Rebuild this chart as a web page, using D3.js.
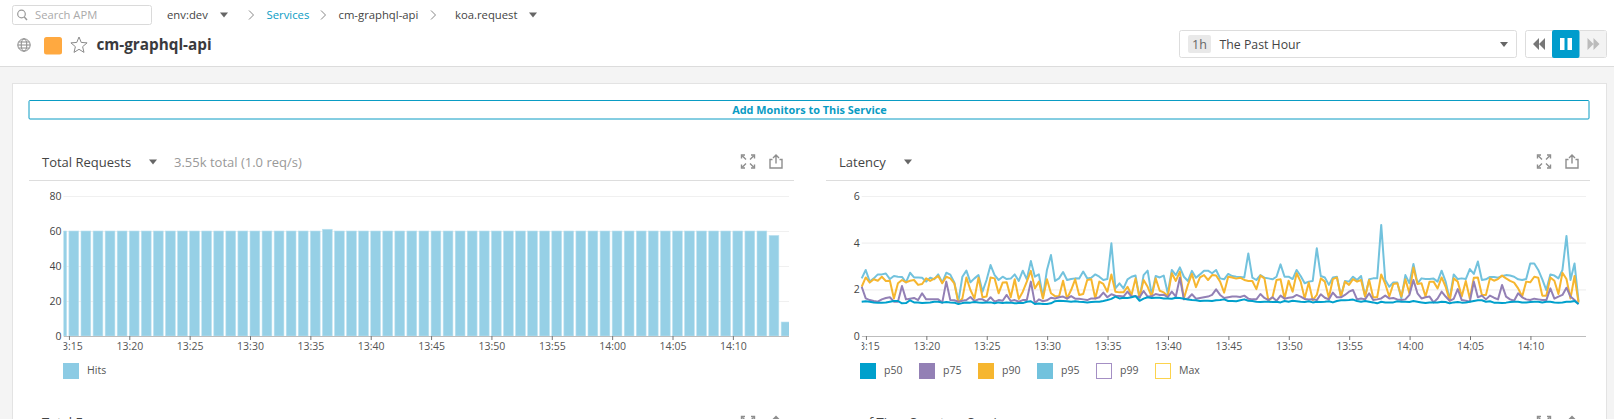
<!DOCTYPE html>
<html>
<head>
<meta charset="utf-8">
<script src="https://cdn.jsdelivr.net/npm/d3@7"></script>
<style>
body { margin: 0; background: #fff; overflow: hidden; }
text { font-family: "Open Sans", sans-serif; }
</style>
</head>
<body>
<svg id="app"></svg>
<script>
var width = 1614, height = 419;

// one bar per minute, 13:14 to 14:14
var hits = [60,60,60,60,60,60,60,60,60,60,60,60,60,60,60,60,60,60,60,60,60,60,61,60,60,60,60,60,60,60,
  60,60,60,60,60,60,60,60,60,60,60,60,60,60,60,60,60,60,60,60,60,60,60,60,60,60,60,60,60,57.5,8];

// latency, one point every 20 seconds
var p95 = [2.47,2.83,2.33,2.47,2.64,2.64,2.68,2.44,2.57,2.54,2.53,2.3,2.71,2.51,2.51,2.5,2.33,2.5,2.43,2.64,2.29,2.71,2.63,2.29,1.47,2.54,2.8,2.3,2.47,2.61,1.9,2.4,3.04,2.61,2.4,2.54,2.44,2.46,2.64,2.36,2.8,2.43,3.21,2.54,2.64,1.66,2.83,3.47,2.36,2.47,2.74,2.4,2.44,2.47,2.46,
  2.76,2.47,2.5,2.64,2.54,2.4,2.44,3.97,2.04,2.26,2.04,2.43,2.54,2.59,1.61,2.61,2.8,1.76,2.57,2.51,2.59,1.83,2.83,2.61,2.94,2.54,2.36,2.79,2.5,2.64,2.8,2.8,2.69,2.83,2.47,2.43,2.66,2.57,2.54,2.53,2.51,3.54,2.5,2.4,2.61,2.5,2.47,2.43,2.54,3.07,2.54,2.54,2.44,2.83,2.57,2.26,2.33,2.36,3.76,2.57,2.51,2.19,2.51,2.54,
  1.69,2.36,2.33,2.54,2.4,2.57,1.69,2.43,2.47,2.47,4.76,2.4,2.11,2.29,2.29,1.61,2.61,2.26,3.09,2.26,2.47,2.44,2.44,2.46,2.33,2.8,2.33,1.57,2.64,2.44,2.47,2.44,2.87,2.66,3.19,2.4,2.43,2.53,2.53,2.5,2.57,2.61,2.59,2.54,2.43,2.4,2.44,3.11,3.11,2.83,2.43,1.97,2.64,2.59,2.47,2.83,4.29,2.4,3.11,1.47];
var p90 = [2.11,2.51,2.29,2.43,2.37,2.54,2.36,2.37,1.61,2.26,2.4,2.3,2.37,2.4,2.19,2.23,2.47,2.36,2.46,2.57,2.26,2.54,2.47,2.26,1.43,1.61,2.51,1.97,1.61,2.5,1.66,1.69,2.51,2.47,1.83,2.29,2.3,1.66,2.43,1.59,1.9,2.33,2.79,2.04,2.33,1.61,2.43,1.83,1.71,1.69,2.37,1.61,1.97,2.43,1.76,
  1.8,2.4,2.43,1.61,2.33,2.23,1.9,2.64,1.9,1.87,1.87,2.11,1.76,2.47,1.66,2.4,2.11,1.69,2.47,1.94,1.87,1.71,2.69,2.36,2.76,1.61,2.19,2.66,2.09,2.51,2.61,2.4,2.61,2.59,2.33,1.86,2.54,2.51,2.46,2.5,2.4,2.36,2.36,2.01,2.59,2.47,1.51,1.66,2.4,2.43,1.61,2.37,1.9,2.69,2.33,1.61,2.29,1.54,1.76,2.47,2.33,1.64,2.44,2.51,
  1.69,2.33,2.19,2.44,2.33,2.4,1.69,2.4,1.66,1.66,2.64,2.23,1.69,2.23,2.26,1.69,2.43,1.83,2.94,2.23,2.26,1.69,2.33,2.33,2.04,2.51,2.11,1.51,2.47,2.33,1.69,2.36,1.61,2.5,2.51,1.76,1.76,2.47,2.37,2.44,2.59,2.47,2.36,2.29,2.04,1.69,2.33,2.3,2.54,2.5,1.73,1.73,2.51,2.37,1.8,2.71,2.44,1.61,2.57,1.43];
var p75 = [2.11,1.61,1.54,1.5,1.47,1.57,1.63,1.66,1.47,1.47,2.14,1.57,1.6,1.63,1.54,1.83,1.57,1.57,1.57,1.57,1.43,2.33,1.54,1.53,1.47,1.51,1.54,1.67,1.5,1.57,1.57,1.47,1.66,1.47,1.54,1.51,1.76,1.5,1.54,1.47,1.54,1.54,2.33,1.4,1.57,1.49,1.53,1.64,1.61,1.66,1.69,1.6,1.71,1.6,1.6,
  1.57,1.54,1.61,1.61,1.66,1.86,1.66,1.79,1.73,1.71,1.69,1.9,1.69,1.71,1.66,1.93,1.69,1.7,1.8,1.76,1.77,1.66,1.9,1.69,2.5,1.57,1.61,1.79,1.6,1.63,1.66,1.69,1.76,2,1.76,1.63,1.66,1.69,1.69,1.67,1.73,1.6,1.57,1.57,1.8,1.63,1.54,1.66,1.51,1.73,1.6,1.64,1.66,1.76,1.69,1.59,1.56,1.57,1.54,1.79,1.64,1.57,1.86,1.66,
  1.66,1.76,1.9,1.97,1.57,1.61,1.57,1.83,1.54,1.57,1.61,1.73,1.61,1.63,1.57,1.54,1.57,1.76,2.4,1.83,1.61,1.66,1.69,1.44,1.61,1.9,1.69,1.51,1.59,2.01,1.54,1.51,1.47,2.33,1.66,1.73,1.57,1.73,1.64,1.57,2.19,1.69,1.57,1.51,1.83,1.66,1.57,1.54,1.6,1.57,1.54,1.54,2.04,1.6,1.69,1.76,2.07,1.69,1.54,1.37];
var p50 = [1.47,1.49,1.47,1.44,1.43,1.43,1.44,1.47,1.5,1.5,1.4,1.41,1.53,1.44,1.44,1.41,1.43,1.44,1.47,1.47,1.43,1.46,1.44,1.43,1.37,1.41,1.44,1.43,1.46,1.44,1.43,1.44,1.44,1.4,1.44,1.41,1.44,1.43,1.4,1.41,1.41,1.47,1.49,1.37,1.39,1.37,1.37,1.4,1.49,1.51,1.5,1.49,1.47,1.49,1.47,
  1.46,1.44,1.46,1.47,1.47,1.5,1.54,1.59,1.69,1.61,1.64,1.63,1.66,1.71,1.51,1.6,1.66,1.63,1.64,1.64,1.61,1.61,1.6,1.64,1.63,1.6,1.56,1.54,1.53,1.5,1.51,1.51,1.5,1.53,1.54,1.57,1.5,1.5,1.49,1.53,1.57,1.51,1.5,1.47,1.46,1.47,1.47,1.46,1.47,1.44,1.5,1.47,1.51,1.49,1.47,1.46,1.49,1.44,1.47,1.46,1.47,1.49,1.44,1.5,
  1.53,1.53,1.54,1.56,1.5,1.47,1.5,1.47,1.44,1.4,1.47,1.44,1.44,1.44,1.49,1.47,1.47,1.46,1.5,1.47,1.44,1.41,1.44,1.44,1.44,1.47,1.46,1.4,1.44,1.46,1.43,1.44,1.47,1.5,1.53,1.53,1.47,1.49,1.43,1.43,1.41,1.43,1.46,1.47,1.47,1.44,1.44,1.46,1.47,1.47,1.44,1.47,1.47,1.44,1.43,1.44,1.47,1.47,1.5,1.37];

var hitsTicks = [0, 20, 40, 60, 80];
var latencyTicks = [0, 2, 4, 6];
var tickMinutes = [15, 20, 25, 30, 35, 40, 45, 50, 55, 60, 65, 70]; // minutes after 13:00
var latencyNames = ["p50", "p75", "p90", "p95", "p99", "Max"];
var latencyColors = ["#00a0cc", "#9380b5", "#f6b62f", "#72c2dd", "#a48fc4", "#fcd34d"];
var crumbs = ["cm-graphql-api", "koa.request"];

var timeAt = function (min, sec) { return new Date(2019, 0, 1, 13, min, sec || 0); };
var tickTimes = tickMinutes.map(function (m) { return timeAt(m); });
var fmt = d3.timeFormat("%H:%M");

var svg = d3.select("#app").attr("width", width).attr("height", height)
  .style("display", "block");
var defs = svg.append("defs");

// page background
svg.append("rect").attr("width", width).attr("height", height).attr("fill", "#fff");
svg.append("rect").attr("y", 66).attr("width", width).attr("height", height - 66)
  .attr("fill", "#f4f4f4");
svg.append("line").attr("x1", 0).attr("x2", width).attr("y1", 66.5).attr("y2", 66.5)
  .attr("stroke", "#dcdcdc");
svg.append("rect").attr("x", 12.5).attr("y", 83.5).attr("width", 1594).attr("height", 400)
  .attr("fill", "#fff").attr("stroke", "#e3e3e3");

var label = function (x, y, str, size, color, weight, anchor) {
  return svg.append("text").attr("x", x).attr("y", y).attr("dy", "0.35em")
    .attr("font-size", size).attr("fill", color)
    .attr("font-weight", weight || 400).attr("text-anchor", anchor || "start").text(str);
};
var caret = function (x, y, color) {
  svg.append("path").attr("d", "M" + (x - 4) + "," + (y - 2.5) + "h8l-4,5z").attr("fill", color || "#666");
};
var chevron = function (x, y) {
  svg.append("path").attr("d", "M" + (x - 2) + "," + (y - 4.5) + "l4.5,4.5l-4.5,4.5")
    .attr("fill", "none").attr("stroke", "#888").attr("stroke-width", 1);
};

// breadcrumb row
svg.append("rect").attr("x", 12.5).attr("y", 5.5).attr("width", 139).attr("height", 19).attr("rx", 2)
  .attr("fill", "#fff").attr("stroke", "#dadada");
svg.append("circle").attr("cx", 21.5).attr("cy", 14).attr("r", 3.8)
  .attr("fill", "none").attr("stroke", "#999").attr("stroke-width", 1.2);
svg.append("line").attr("x1", 24.3).attr("y1", 17).attr("x2", 27).attr("y2", 20)
  .attr("stroke", "#999").attr("stroke-width", 1.4);
label(35, 15, "Search APM", 11.2, "#aaa");
label(167, 15, "env:dev", 11.3, "#444");
caret(224, 15);
chevron(251, 15);
label(266.5, 15, "Services", 11.3, "#0a9cc4");
chevron(323, 15);
label(338.5, 15, crumbs[0], 11.3, "#444");
chevron(433, 15);
label(455, 15, crumbs[1], 11.3, "#444");
caret(533, 15);

// service title row
var globe = svg.append("g").attr("transform", "translate(24,45)")
  .attr("fill", "none").attr("stroke", "#8a8a8a").attr("stroke-width", 1);
globe.append("circle").attr("r", 6.2);
globe.append("ellipse").attr("rx", 2.8).attr("ry", 6.2);
globe.append("path").attr("d", "M-6.2,0H6.2M-5.4,-3H5.4M-5.4,3H5.4");
svg.append("rect").attr("x", 44).attr("y", 37).attr("width", 18).attr("height", 17.5).attr("rx", 2.5)
  .attr("fill", "#ffa940");
svg.append("path").attr("fill", "none").attr("stroke", "#8a8a8a").attr("stroke-width", 1)
  .attr("d", d3.range(10).map(function (i) {
    var r = i % 2 ? 3.8 : 8.5, a = i * Math.PI / 5 - Math.PI / 2;
    return (i ? "L" : "M") + (79 + r * Math.cos(a)) + "," + (45.5 + r * Math.sin(a));
  }).join("") + "Z");
label(96.4, 45, "cm-graphql-api", 15.3, "#3a3a3d", 700);

// time picker
svg.append("rect").attr("x", 1179.5).attr("y", 30.5).attr("width", 337).attr("height", 27).attr("rx", 2)
  .attr("fill", "#fff").attr("stroke", "#dddddd");
svg.append("rect").attr("x", 1188).attr("y", 35).attr("width", 23).attr("height", 18).attr("rx", 2)
  .attr("fill", "#e9e9e9");
label(1199.5, 44.5, "1h", 12.5, "#666", 400, "middle");
label(1219.5, 44.5, "The Past Hour", 12.3, "#444");
caret(1504, 44.5);
svg.append("rect").attr("x", 1525.5).attr("y", 30.5).attr("width", 81).attr("height", 27).attr("rx", 2)
  .attr("fill", "#fff").attr("stroke", "#dddddd");
svg.append("rect").attr("x", 1579).attr("y", 31).attr("width", 27).attr("height", 26).attr("fill", "#f3f3f3");
svg.append("rect").attr("x", 1552).attr("y", 30).attr("width", 27.5).attr("height", 28).attr("rx", 2)
  .attr("fill", "#009ccc");
svg.append("path").attr("fill", "#fff").attr("d", "M1560,38h4.5v12h-4.5zM1567.5,38h4.5v12h-4.5z");
svg.append("path").attr("fill", "#777").attr("d", "M1545,38v12l-6,-6zM1539,38v12l-6,-6z");
svg.append("path").attr("fill", "#bbb").attr("d", "M1587.5,38v12l6,-6zM1593.5,38v12l6,-6z");

// monitors button
svg.append("rect").attr("x", 29).attr("y", 100.5).attr("width", 1560).attr("height", 18.5).attr("rx", 1)
  .attr("fill", "#fff").attr("stroke", "#0a9cc4");
label(809.5, 110, "Add Monitors to This Service", 10.9, "#0a9cc4", 700, "middle");

var panelIcons = function (x1, x2, y) {
  var g = svg.append("g").attr("fill", "none").attr("stroke", "#8e8e8e").attr("stroke-width", 1.4);
  [[-1, -1], [1, -1], [-1, 1], [1, 1]].forEach(function (s) {
    g.append("path").attr("d", "M" + (x1 + s[0] * 2) + "," + (y + s[1] * 2) + "L" + (x1 + s[0] * 5.5) + "," + (y + s[1] * 5.5)
      + "M" + (x1 + s[0] * 6.5) + "," + (y + s[1] * 3) + "V" + (y + s[1] * 6.5) + "H" + (x1 + s[0] * 3));
  });
  g.append("path").attr("d", "M" + (x2 - 3.5) + "," + (y - 2) + "H" + (x2 - 6) + "V" + (y + 6.5) + "H" + (x2 + 6) + "V" + (y - 2) + "H" + (x2 + 3.5)
    + "M" + x2 + "," + (y + 2) + "V" + (y - 6.5) + "M" + (x2 - 3) + "," + (y - 3.5) + "L" + x2 + "," + (y - 6.5) + "L" + (x2 + 3) + "," + (y - 3.5));
};

// panel headers
label(42, 162, "Total Requests", 13, "#444");
caret(153, 162);
label(174, 162, "3.55k total (1.0 req/s)", 13, "#999");
panelIcons(748, 776, 161.5);
svg.append("line").attr("x1", 29).attr("x2", 794).attr("y1", 180.5).attr("y2", 180.5).attr("stroke", "#dddddd");
label(839, 162, "Latency", 13, "#444");
caret(908, 162);
panelIcons(1544, 1572, 161.5);
svg.append("line").attr("x1", 826).attr("x2", 1590).attr("y1", 180.5).attr("y2", 180.5).attr("stroke", "#dddddd");

// next row of panels, cut off by the window
label(42, 422, "Total Errors", 13, "#444");
label(861, 422, "of Time Spent on Service", 13, "#444");
panelIcons(748, 776, 423);
panelIcons(1544, 1572, 423);

// draws grid, axes and clipping shared by both charts
var makeChart = function (id, left, right, start, end, maxY, yTicks) {
  var x = d3.scaleTime().domain([start, end]).range([left, right]);
  var y = d3.scaleLinear().domain([0, maxY]).range([336, 196]);
  // clip rects are in the axis group's own coordinates
  defs.append("clipPath").attr("id", id + "X").append("rect")
    .attr("x", left).attr("y", -2).attr("width", right - left).attr("height", 30);
  defs.append("clipPath").attr("id", id + "Y").append("rect")
    .attr("x", -12).attr("y", 185).attr("width", 20).attr("height", 160);

  var grid = svg.append("g").attr("class", "grid");
  var body = svg.append("g");
  var overlay = svg.append("g");
  grid.selectAll("line").data(yTicks.filter(function (d) { return d > 0; })).enter().append("line")
    .attr("x1", left).attr("x2", right)
    .attr("y1", function (d) { return y(d) + 0.5; }).attr("y2", function (d) { return y(d) + 0.5; })
    .attr("stroke", "#f0f0f0").attr("stroke-width", 1.2);

  var xAxis = overlay.append("g").attr("transform", "translate(0,336)")
    .attr("clip-path", "url(#" + id + "X)")
    .call(d3.axisBottom(x).tickValues(tickTimes).tickFormat(fmt).tickSize(4).tickPadding(3));
  xAxis.select(".domain").attr("stroke", "#bdbdbd").attr("d", "M" + left + ",0.5H" + right);
  xAxis.selectAll(".tick line").attr("stroke", "#777");
  xAxis.selectAll("text").attr("font-size", 10.5).attr("fill", "#555").attr("font-family", '"Open Sans", sans-serif');

  var yAxis = overlay.append("g").attr("transform", "translate(" + (left - 2) + ",0)")
    .attr("clip-path", "url(#" + id + "Y)")
    .call(d3.axisLeft(y).tickValues(yTicks).tickFormat(d3.format("d")).tickSize(0).tickPadding(0));
  yAxis.select(".domain").remove();
  yAxis.selectAll("text").attr("font-size", 10.5).attr("fill", "#444").attr("font-family", '"Open Sans", sans-serif');
  return { x: x, y: y, body: body };
};

// Total Requests
var hitsChart = makeChart("hits", 63.5, 789, timeAt(14, 33), timeAt(74, 39), 80, hitsTicks);
var barStep = hitsChart.x(timeAt(15)) - hitsChart.x(timeAt(14));
defs.append("clipPath").attr("id", "hitsClip").append("rect")
  .attr("x", 63.5).attr("y", 185).attr("width", 725.5).attr("height", 151);
hitsChart.body.attr("clip-path", "url(#hitsClip)").selectAll("rect").data(hits).enter().append("rect")
  .attr("x", function (d, i) { return hitsChart.x(timeAt(14 + i)); })
  .attr("y", function (d) { return hitsChart.y(d); })
  .attr("width", barStep - 2.3)
  .attr("height", function (d) { return 336 - hitsChart.y(d); })
  .attr("fill", "#90cee5").attr("fill-opacity", 0.95)
  .attr("stroke", "#bce2f0").attr("stroke-width", 0.6);

svg.append("rect").attr("x", 63).attr("y", 363).attr("width", 16).attr("height", 16).attr("fill", "#8ccbe4");
label(87, 370.5, "Hits", 10.5, "#555");

// Latency
var latencyChart = makeChart("lat", 861.7, 1586, timeAt(14, 39), timeAt(74, 36), 6, latencyTicks);
var latencyLine = d3.line()
  .x(function (d, i) { return latencyChart.x(timeAt(14, 39 + i * 20)); })
  .y(function (d) { return latencyChart.y(d); });
[[p95, 3], [p90, 2], [p75, 1], [p50, 0]].forEach(function (s) {
  latencyChart.body.append("path").datum(s[0])
    .attr("d", latencyLine)
    .attr("fill", "none").attr("stroke", latencyColors[s[1]])
    .attr("stroke-width", 2).attr("stroke-linejoin", "round");
});

var swatchX = [860, 919, 978, 1037, 1096, 1155];
latencyNames.forEach(function (name, i) {
  var open = i > 3;
  svg.append("rect")
    .attr("x", swatchX[i] + (open ? 0.5 : 0)).attr("y", 363 + (open ? 0.5 : 0))
    .attr("width", open ? 15 : 16).attr("height", open ? 15 : 16)
    .attr("fill", open ? "#fff" : latencyColors[i])
    .attr("stroke", open ? latencyColors[i] : "none");
  label(swatchX[i] + 24, 370.5, name, 10.5, "#555");
});
</script>
</body>
</html>
